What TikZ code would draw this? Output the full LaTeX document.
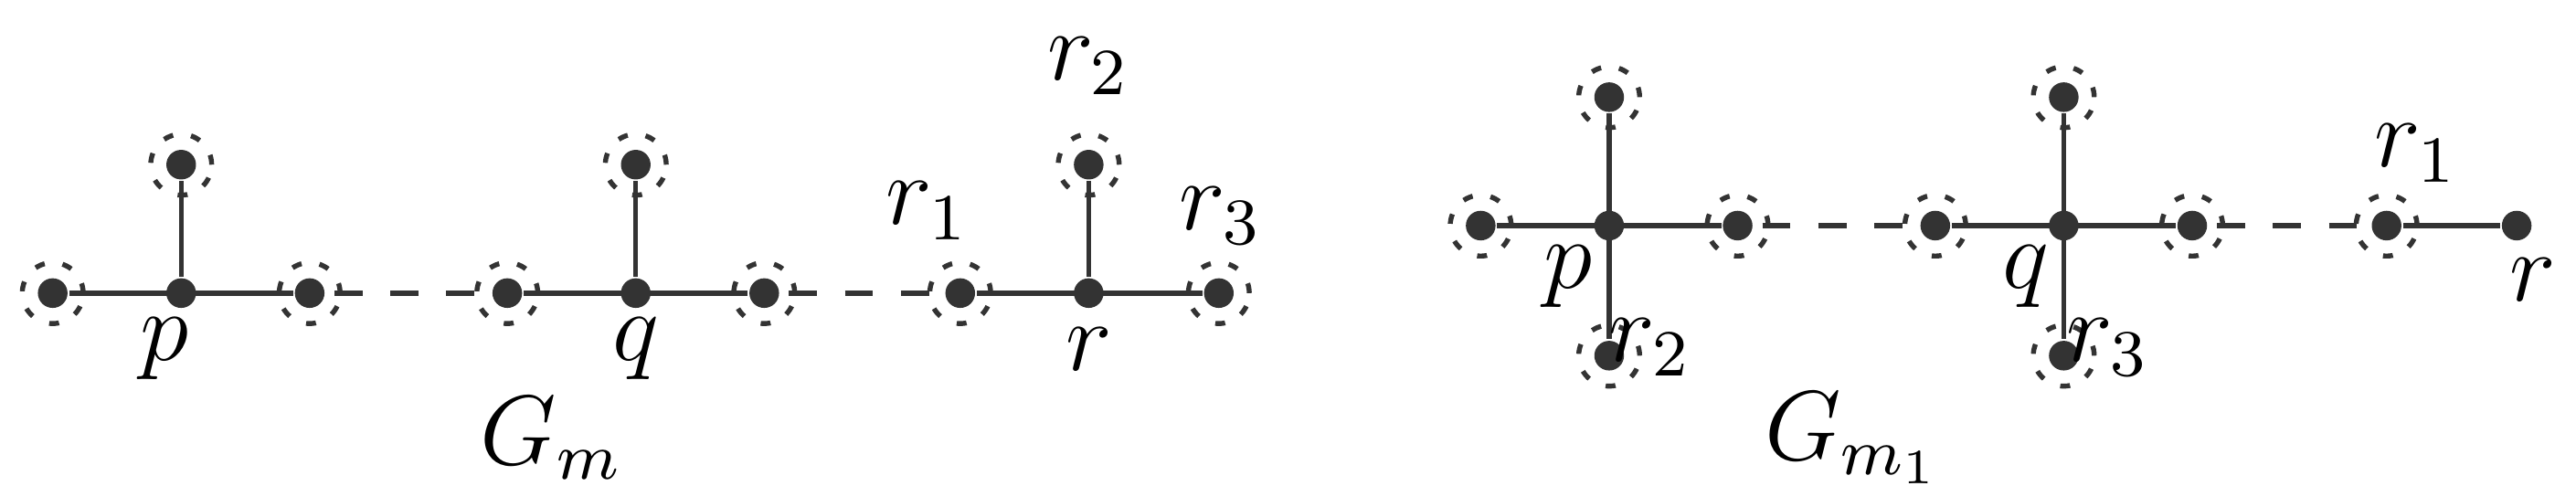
\documentclass[tikz,border=0pt]{standalone}
\begin{document}
\begin{tikzpicture}[x=0.2pt,y=-0.2pt,
  dot/.style={circle,fill=black!80,inner sep=0pt,minimum size=3.6pt},
  ring/.style={circle,draw=black!80,dash pattern=on 1.2pt off 2.2pt,line width=0.6pt,minimum size=7.4pt,inner sep=0pt},
  edge/.style={line width=0.6pt,draw=black!80},
  gap/.style={line width=0.6pt,draw=black!80,dash pattern=on 3.4pt off 3.4pt,dash phase=-1pt},
  lab/.style={font=\large}]
\useasboundingbox (0,0) rectangle (1564,295);
% left graph
\foreach \n/\x/\y in {p/110/178,pl/32/178,pr/188/178,pt/110/100,q/386/178,ql/308/178,qr/464/178,qt/386/100,r/661/178,ra/583/178,rc/740/178,rb/661/100}
  \node[dot] (\n) at (\x,\y) {};
\foreach \n in {pl,pr,pt,ql,qr,qt,ra,rc,rb} \node[ring] at (\n) {};
\draw[edge] (pl)--(pr) (p)--(pt) (ql)--(qr) (q)--(qt) (ra)--(rc) (r)--(rb);
\draw[gap] (pr)--(ql);
\draw[gap] (qr)--(ra);
\node[lab] at (100,212) {$p$};
\node[lab] at (386,212) {$q$};
\node[lab] at (661,212) {$r$};
\node[lab] at (563,128) {$r_1$};
\node[lab] at (661,40) {$r_2$};
\node[lab] at (741,131) {$r_3$};
\node[lab] at (335,266) {$G_m$};
% right graph
\foreach \n/\x/\y in {P/977/137,Pl/899/137,Pr/1055/137,Pt/977/59,Pb/977/216,Q/1253/137,Ql/1175/137,Qr/1331/137,Qt/1253/59,Qb/1253/216,Ra/1449/137,R/1528/137}
  \node[dot] (\n) at (\x,\y) {};
\foreach \n in {Pl,Pr,Pt,Pb,Ql,Qr,Qt,Qb,Ra} \node[ring] at (\n) {};
\draw[edge] (Pl)--(Pr) (Pt)--(Pb) (Ql)--(Qr) (Qt)--(Qb) (Ra)--(R);
\draw[gap] (Pr)--(Ql);
\draw[gap] (Qr)--(Ra);
\node[lab] at (952,168) {$p$};
\node[lab] at (1230,168) {$q$};
\node[lab] at (1538,170) {$r$};
\node[lab] at (1467,93) {$r_1$};
\node[lab] at (1002,211) {$r_2$};
\node[lab] at (1280,211) {$r_3$};
\node[lab] at (1125,266) {$G_{m_1}$};
\end{tikzpicture}
\end{document}
